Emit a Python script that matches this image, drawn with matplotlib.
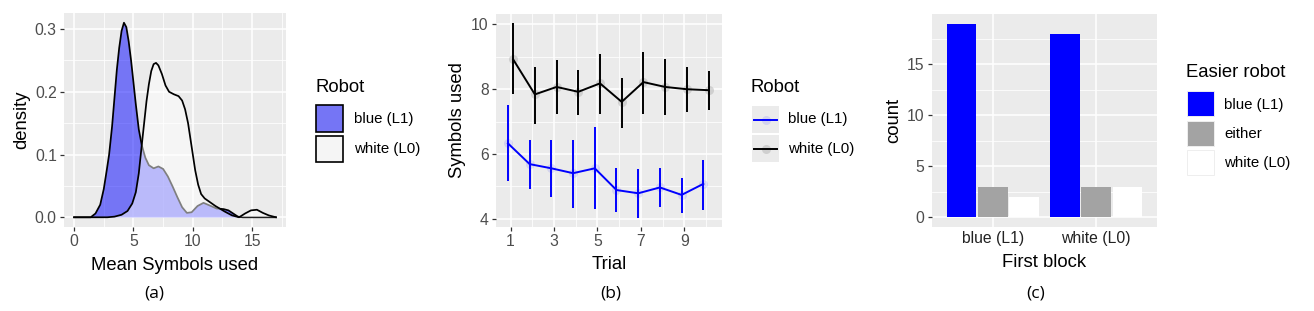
import matplotlib
matplotlib.use("Agg")
import matplotlib.pyplot as plt
from matplotlib.patches import Rectangle
from matplotlib.lines import Line2D
from matplotlib.ticker import FixedLocator

# ---------------- data ----------------
# (a) density curves
blue_x = [0, 1.4, 1.8, 2.2, 2.5, 2.75, 2.95, 3.2, 3.4, 3.6, 3.8, 4.0, 4.2, 4.4, 4.6, 4.8, 5.0,
          5.2, 5.45, 5.7, 6.0, 6.3, 6.7, 7.1, 7.5, 7.9, 8.3, 8.7, 9.1, 9.5, 9.9, 10.4, 10.9,
          11.4, 12.0, 12.6, 13.0, 13.4, 13.8, 14.2, 17.0]
blue_y = [0, 0.0, 0.006, 0.02, 0.045, 0.075, 0.1, 0.145, 0.19, 0.235, 0.27, 0.297, 0.31, 0.303,
          0.28, 0.25, 0.215, 0.18, 0.14, 0.115, 0.095, 0.083, 0.078, 0.081, 0.077, 0.065, 0.049,
          0.032, 0.016, 0.007, 0.008, 0.018, 0.023, 0.019, 0.014, 0.013, 0.011, 0.006, 0.001,
          0.0, 0.0]
white_x = [0, 2.8, 3.4, 4.0, 4.5, 4.9, 5.2, 5.45, 5.7, 5.9, 6.1, 6.3, 6.5, 6.7, 6.9, 7.1, 7.4,
           7.7, 8.0, 8.4, 8.8, 9.1, 9.35, 9.6, 9.8, 10.0, 10.2, 10.45, 10.7, 11.0, 11.3, 11.9,
           12.7, 13.3, 13.9, 14.4, 14.9, 15.4, 15.9, 16.4, 17.0]
white_y = [0, 0.0, 0.001, 0.004, 0.01, 0.022, 0.04, 0.07, 0.115, 0.15, 0.185, 0.212, 0.233,
           0.244, 0.246, 0.242, 0.228, 0.21, 0.2, 0.196, 0.193, 0.186, 0.172, 0.15, 0.125, 0.1,
           0.075, 0.052, 0.037, 0.03, 0.026, 0.018, 0.009, 0.003, 0.0, 0.006, 0.011, 0.012,
           0.007, 0.003, 0.0]

# (b) symbols used per trial
trials = [1, 2, 3, 4, 5, 6, 7, 8, 9, 10]
blue_mean = [6.33, 5.69, 5.56, 5.41, 5.56, 4.89, 4.79, 4.97, 4.74, 5.08]
blue_hi = [7.51, 6.43, 6.43, 6.43, 6.82, 5.56, 5.53, 5.56, 5.25, 5.82]
blue_lo = [5.18, 4.92, 4.67, 4.35, 4.30, 4.20, 4.02, 4.36, 4.18, 4.28]
white_mean = [8.92, 7.84, 8.07, 7.92, 8.18, 7.61, 8.22, 8.07, 8.00, 7.97]
white_hi = [10.04, 8.67, 8.89, 8.58, 9.10, 8.36, 9.15, 8.94, 8.69, 8.56]
white_lo = [7.84, 6.94, 7.25, 7.20, 7.23, 6.79, 7.25, 7.20, 7.30, 7.35]

# (c) counts
first_block = ["blue (L1)", "white (L0)"]
easier_labels = ["blue (L1)", "either", "white (L0)"]
count_blue = [19, 18]
count_either = [3, 3]
count_white = [2, 3]

# ---------------- style ----------------
W, H = 1314, 311
fig = plt.figure(figsize=(W / 100, H / 100), dpi=100)
FONT = "Liberation Sans"
plt.rcParams["font.family"] = [FONT, "DejaVu Sans"]
BG = "#EBEBEB"
TICKC = "#4D4D4D"


def fx(x):
    return x / W


def fy(y):
    return 1 - y / H


def make_ax(l, t, r, b):
    ax = fig.add_axes([fx(l), fy(b), (r - l) / W, (b - t) / H])
    ax.set_facecolor(BG)
    for s in ax.spines.values():
        s.set_visible(False)
    ax.grid(which="major", color="white", lw=1.1, zorder=0)
    ax.grid(which="minor", color="white", lw=0.55, zorder=0)
    ax.set_axisbelow(True)
    ax.tick_params(which="major", length=3.2, width=0.9, color="#333333",
                   labelsize=11.3, labelcolor=TICKC, pad=2)
    ax.tick_params(which="minor", length=0)
    return ax


# ---------------- (a) ----------------
axa = make_ax(64, 13, 286, 227)
axa.fill_between(blue_x, 0, blue_y, facecolor=(0, 0, 1, 0.5), lw=0, zorder=2)
axa.plot(blue_x, blue_y, color="black", lw=1.25, zorder=2.1)
axa.fill_between(white_x, 0, white_y, facecolor=(1, 1, 1, 0.5), lw=0, zorder=3)
axa.plot(white_x, white_y, color="black", lw=1.25, zorder=3.1)
axa.set_xlim(-0.85, 17.85)
axa.set_ylim(-0.0155, 0.3255)
axa.xaxis.set_major_locator(FixedLocator([0, 5, 10, 15]))
axa.xaxis.set_minor_locator(FixedLocator([2.5, 7.5, 12.5, 17.5]))
axa.yaxis.set_major_locator(FixedLocator([0, 0.1, 0.2, 0.3]))
axa.yaxis.set_minor_locator(FixedLocator([0.05, 0.15, 0.25]))
axa.set_yticklabels(["0.0", "0.1", "0.2", "0.3"])
axa.set_xlabel("Mean Symbols used", fontsize=13.3, labelpad=5.5)
axa.set_ylabel("density", fontsize=13.3, labelpad=3)

# ---------------- (b) ----------------
axb = make_ax(496, 14, 722, 227)
off = 0.12
bx = [t - off for t in trials]
wx = [t + off for t in trials]
axb.plot(bx, blue_mean, "o", color="#0000FF", alpha=0.1, ms=6.5, mew=0, zorder=2.5)
axb.plot(wx, white_mean, "o", color="#BDBDBD", alpha=0.6, ms=6.5, mew=0, zorder=2.5)
axb.vlines(bx, blue_lo, blue_hi, color="#0000FF", lw=1.4, zorder=3)
axb.plot(bx, blue_mean, color="#0000FF", lw=1.4, zorder=3)
axb.vlines(wx, white_lo, white_hi, color="black", lw=1.4, zorder=3)
axb.plot(wx, white_mean, color="black", lw=1.4, zorder=3)
axb.set_xlim(0.33, 10.74)
axb.set_ylim(3.75, 10.32)
axb.xaxis.set_major_locator(FixedLocator([1, 3, 5, 7, 9]))
axb.xaxis.set_minor_locator(FixedLocator([2, 4, 6, 8, 10]))
axb.yaxis.set_major_locator(FixedLocator([4, 6, 8, 10]))
axb.yaxis.set_minor_locator(FixedLocator([5, 7, 9]))
axb.set_xlabel("Trial", fontsize=13.3, labelpad=5)
axb.set_ylabel("Symbols used", fontsize=13.3, labelpad=4)

# ---------------- (c) ----------------
axc = make_ax(931.7, 14, 1157.3, 227)
pos = [1, 2]
slot = 0.3
bw = 0.285
series = [(count_blue, "#0000FF"), (count_either, "#A3A3A3"), (count_white, "#FFFFFF")]
for i, (vals, col) in enumerate(series):
    xs = [p + (i - 1) * slot for p in pos]
    axc.bar(xs, vals, width=bw, color=col, lw=0, zorder=3)
axc.set_xlim(0.41, 2.59)
axc.set_ylim(-0.95, 19.95)
axc.xaxis.set_major_locator(FixedLocator(pos))
axc.set_xticklabels(first_block)
axc.yaxis.set_major_locator(FixedLocator([0, 5, 10, 15]))
axc.yaxis.set_minor_locator(FixedLocator([2.5, 7.5, 12.5, 17.5]))
axc.tick_params(axis="x", which="major", length=0, pad=3, labelcolor="#222222")
axc.set_xlabel("First block", fontsize=13.3, labelpad=5.5)
axc.set_ylabel("count", fontsize=13.3, labelpad=3)

# ---------------- legends (drawn in figure pixels) ----------------
def rect(x0, y0, x1, y1, **kw):
    fig.add_artist(Rectangle((fx(x0), fy(y1)), (x1 - x0) / W, (y1 - y0) / H,
                             transform=fig.transFigure, **kw))


def ftext(x, y, s, size, **kw):
    fig.text(fx(x), fy(y), s, fontsize=size, va="center", ha="left", **kw)


LEG = 10.8
TITLE = 13.3
# (a)
ftext(315.5, 87, "Robot", TITLE)
rect(316, 105.5, 343, 132, facecolor="#7575F5", edgecolor="black", lw=1.2)
rect(316, 135.5, 343, 162, facecolor="#F5F5F5", edgecolor="black", lw=1.2)
ftext(354, 119, "blue (L1)", LEG)
ftext(354, 149, "white (L0)", LEG)

# (b)
ftext(750.5, 87, "Robot", TITLE)
for yc, lc, pc, pa in [(119.5, "#0000FF", "#0000FF", 0.1), (148.5, "black", "#BDBDBD", 0.6)]:
    rect(752, yc - 13.5, 779, yc + 13.5, facecolor=BG, edgecolor="none")
    fig.add_artist(Line2D([fx(765.5)], [fy(yc)], marker="o", color=pc, alpha=pa, ms=6.5,
                          mew=0, transform=fig.transFigure))
    fig.add_artist(Line2D([fx(754), fx(777)], [fy(yc), fy(yc)], color=lc, lw=1.4,
                          transform=fig.transFigure))
ftext(788, 119, "blue (L1)", LEG)
ftext(788, 149, "white (L0)", LEG)

# (c)
ftext(1186.5, 72.5, "Easier robot", TITLE)
for (yt, yb), col in zip([(91, 116.5), (120.5, 146), (149.5, 175)], ["#0000FF", "#A3A3A3", "#FFFFFF"]):
    rect(1187, yt, 1213.5, yb, facecolor=col, edgecolor="#EEEEEE", lw=0.7)
ftext(1224, 104.5, easier_labels[0], LEG)
ftext(1224, 133.5, easier_labels[1], LEG)
ftext(1224, 162.5, easier_labels[2], LEG)

# captions
for xc, s in [(154, "(a)"), (610.5, "(b)"), (1036, "(c)")]:
    fig.text(fx(xc), fy(293), s, fontsize=12.5, ha="center", va="center",
             family=["Open Sans", "DejaVu Sans"])

fig.savefig("out.png", dpi=100)
